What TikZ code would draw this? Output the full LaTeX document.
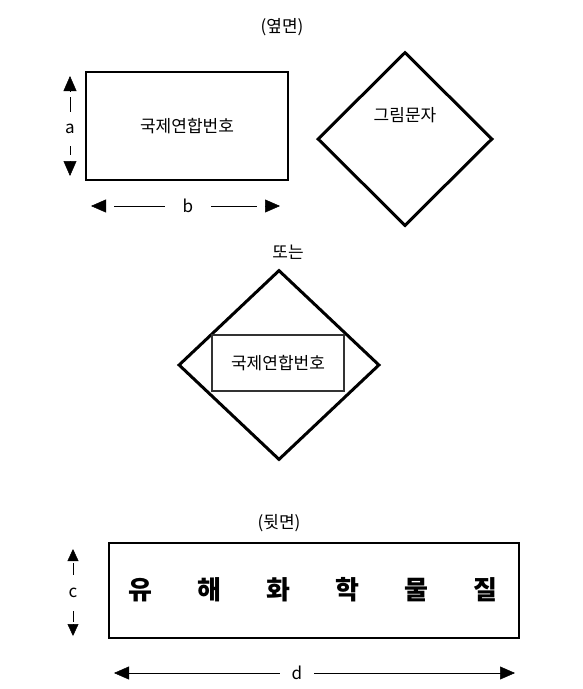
\documentclass[tikz,border=0pt]{standalone}
\usepackage{fontspec}
\setmainfont{Noto Sans CJK KR}
\usetikzlibrary{shapes.geometric,arrows.meta,calc}

\begin{document}
\begin{tikzpicture}[x=1pt,y=-1pt,
  every node/.style={font=\fontsize{17}{20}\selectfont},
  box/.style={draw,line width=2pt,inner sep=0pt},
  sign/.style={draw,diamond,line width=3pt,inner sep=0pt},
  dimlab/.style={inner sep=0pt},
  dim/.style={line width=0.8pt},
  bigtip/.style={line width=0.5pt,-{Triangle[length=15pt,width=13pt]}},
  smalltip/.style={line width=0.5pt,-{Triangle[length=12pt,width=11pt]}}]
\useasboundingbox (0,0) rectangle (582,689);

% front side
\node (sidecap) at (282,27) {(옆면)};
\node[box,minimum width=202pt,minimum height=108pt] (unbox) at (187,126) {국제연합번호};
\node[sign,minimum width=175pt,minimum height=174pt] (pict) at (405,139) {};
\node (picttxt) at (405,115) {그림문자};

\node[dimlab] (alab) at (70,129) {a};
\coordinate (atop) at (70,76);
\coordinate (abot) at (70,176);
\foreach \e in {atop,abot} {
  \draw[dim,shorten <=12pt] (alab) -- ($(\e)!21pt!(alab)$);
  \draw[bigtip] ($(\e)!15pt!(alab)$) -- (\e);
}

\node[dimlab] (blab) at (188,206) {b};
\coordinate (bleft) at (91,206);
\coordinate (bright) at (280,206);
\foreach \e in {bleft,bright} {
  \draw[dim,shorten <=18pt] (blab) -- ($(\e)!23pt!(blab)$);
  \draw[bigtip] ($(\e)!14pt!(blab)$) -- (\e);
}

% combined sign
\node (or) at (288,252) {또는};
\node[sign,minimum width=201pt,minimum height=190pt] (combo) at (279,365) {};
\node[box,draw=black!80,minimum width=132pt,minimum height=56pt] (unbox2) at (278,363) {국제연합번호};

% back side
\node (backcap) at (279,523) {(뒷면)};
\node[box,minimum width=410pt,minimum height=95pt] (back) at (314,590.5) {};
\foreach \ch [count=\i] in {유,해,화,학,물,질}
  \node[font=\fontsize{26}{30}\selectfont\bfseries] (ch\i) at (71+69*\i,590) {\ch};

\node[dimlab] (clab) at (73,593) {c};
\coordinate (ctop) at (73,549);
\coordinate (cbot) at (73,636);
\foreach \e in {ctop,cbot} {
  \draw[dim,shorten <=13pt] (clab) -- ($(\e)!14pt!(clab)$);
  \draw[smalltip] ($(\e)!11pt!(clab)$) -- (\e);
}

\node[dimlab] (dlab) at (297,673) {d};
\coordinate (dleft) at (114,673);
\coordinate (dright) at (515,673);
\foreach \e in {dleft,dright} {
  \draw[dim,shorten <=12pt] (dlab) -- ($(\e)!13pt!(dlab)$);
  \draw[bigtip] ($(\e)!14pt!(dlab)$) -- (\e);
}
\end{tikzpicture}
\end{document}
